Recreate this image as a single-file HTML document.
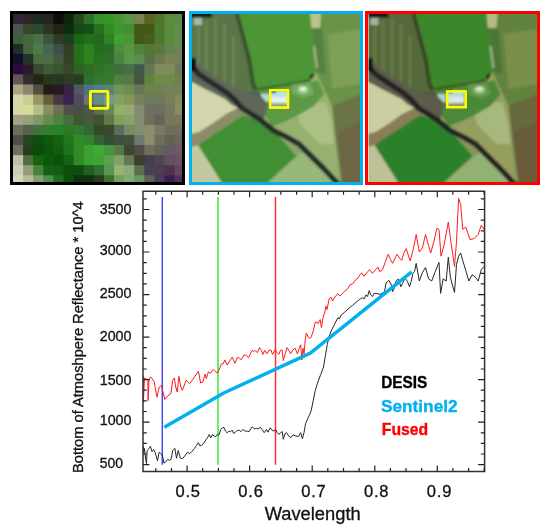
<!DOCTYPE html>
<html><head><meta charset="utf-8"><style>
html,body{margin:0;padding:0;background:#fff;width:550px;height:532px;overflow:hidden}
svg{position:absolute;left:0;top:0;display:block}
text{font-family:"Liberation Sans",Arial,sans-serif}
.k{stroke:#111;stroke-width:0.3px;paint-order:stroke}
</style></head><body>
<svg width="550" height="532" viewBox="0 0 550 532">
<defs>
<clipPath id="c1"><rect x="13" y="14" width="169" height="168"/></clipPath>
<clipPath id="c2"><rect x="0" y="0" width="169" height="169"/></clipPath>
<filter id="b1" x="-5%" y="-5%" width="110%" height="110%"><feGaussianBlur stdDeviation="0.7"/><feComponentTransfer><feFuncA type="table" tableValues="0 1 1 1 1 1 1 1 1 1"/></feComponentTransfer></filter>
<filter id="bl" x="-5%" y="-5%" width="110%" height="110%"><feGaussianBlur stdDeviation="1.1"/><feComponentTransfer><feFuncA type="table" tableValues="0 1 1 1 1 1 1 1 1 1"/></feComponentTransfer></filter>

<g id="scene"><rect x="0" y="0" width="169" height="169" fill="#8aa468"/>
<!-- C right zone top -->
<polygon points="117,0 169,0 169,82 140,92 124,58 121,30" fill="#6a9249"/>
<polygon points="135,20 169,15 169,70 140,75" fill="#82a25a" opacity="0.8"/>
<polygon points="119,14 130,14 134,60 124,58 121,30" fill="#4f7c3c" opacity="0.7"/>
<!-- D right zone bottom brownish -->
<polygon points="140,92 169,80 169,169 150,169 143,120" fill="#6a7446"/>
<polygon points="146,118 169,108 169,169 150,169" fill="#6c6644"/>
<polygon points="117,0 129,0 128,14 118,14" fill="#b9c38c"/>
<!-- A upper-left gray-green -->
<polygon points="0,0 47,0 54,24 60,47 63,70 66,76 58,84 45,88 34,82 25,75 16,69 6,61 0,54" fill="#5a7546"/>
<g fill="#73905e" opacity="0.6">
<rect x="5" y="12" width="3" height="40"/><rect x="13" y="6" width="3" height="55"/><rect x="22" y="4" width="3" height="62"/><rect x="31" y="10" width="3" height="62"/><rect x="40" y="22" width="3" height="58"/>
</g>
<rect x="0" y="0" width="20" height="3.5" fill="#151a18"/>
<rect x="2" y="4" width="8" height="7" fill="#a9bba8"/>
<!-- B top green field -->
<polygon points="47,0 118,0 121,30 124,58 118,66 90,70 66,76 63,70 60,47 54,24" fill="#4e9634"/>
<polyline points="45,0 51.5,24 57.5,47 61,70 64,76" fill="none" stroke="#34552e" stroke-width="4"/>
<polyline points="66,76 90,72 118,67" fill="none" stroke="#3a6a2c" stroke-width="4"/>
<line x1="122" y1="32" x2="125" y2="54" stroke="#a8b898" stroke-width="2"/>
<circle cx="121" cy="63" r="3.2" fill="#1c2a1c"/>
<!-- E middle zone -->
<polygon points="66,77 118,68 124,58 140,92 143,120 147,169 132,156 119,143 107,131 95,124 82,117 68,106 58,98" fill="#96b070"/>
<polygon points="105,90 134,88 140,110 142,130 128,130 108,110" fill="#acc084"/>
<polygon points="66,77 118,68 126,66 132,80 122,92 108,100 92,108 80,112 72,100 68,90" fill="#5c9844"/>
<polygon points="100,70 118,68 122,80 112,84 100,80" fill="#78b060" opacity="0.8"/>
<ellipse cx="111" cy="76" rx="6" ry="4" fill="#98c888"/>
<!-- F dark junction -->
<polygon points="48,80 66,77 75,88 72,98 58,100 46,92" fill="#55604e"/>
<rect x="108" y="73" width="6" height="4" fill="#e6f0e0"/>
<rect x="69" y="80" width="8" height="8" fill="#b8dcd4"/>
<rect x="78" y="77" width="18" height="6" fill="#b4e4f0"/>
<rect x="78" y="83" width="18" height="6" fill="#e8f0f0"/>
<rect x="78" y="89" width="18" height="5" fill="#8ea888"/>
<rect x="79" y="76" width="5" height="3" fill="#101018"/>
<!-- dark band -->
<polygon points="0,45 14,56 28,65.5 40,73 52.6,78 70,83 76,90 72,105 52.6,97 39.5,90.7 33,85 26,81.5 13,75 0,68" fill="#5e665a"/>
<!-- H cream -->
<polygon points="0,68 13,75 26,81.5 33,85 39.5,90.7 46,94 34,100 20,110 7,118 0,120" fill="#d3d6ac"/>
<!-- I transition -->
<polygon points="46,94 54,99 47,104 6,131 0,133 0,120 7,118 20,110 34,100" fill="#8c8c68"/>
<!-- K bottom-left corner -->
<polygon points="0,133 6,131 32,172 0,172" fill="#c4c8a0"/>
<!-- L bottom strip -->
<polygon points="70,172 104,144 113,137 150,172" fill="#98b878"/>
<!-- J bottom field -->
<polygon points="6,131 47,104 52,101 70,108 84,119 104,142 72,172 32,172" fill="#3f8f34"/>
<!-- road -->
<polyline points="0,52 6.6,60 17,67 26,73 35,79 43,86 49.7,94 68.3,105.6 81.8,116.6 95.4,123.4 107.2,130.1 119,142 132.6,155.5 147,171" fill="none" stroke="#25292c" stroke-width="5.5" stroke-linejoin="round"/>
<rect x="0" y="44" width="4" height="13" fill="#0c0c0c"/>
</g>
<g id="scene3"><rect x="0" y="0" width="169" height="169" fill="#879458"/>
<!-- C right zone top -->
<polygon points="117,0 169,0 169,82 140,92 124,58 121,30" fill="#62833d"/>
<polygon points="135,20 169,15 169,70 140,75" fill="#7f924c" opacity="0.8"/>
<polygon points="119,14 130,14 134,60 124,58 121,30" fill="#437031" opacity="0.7"/>
<!-- D right zone bottom brownish -->
<polygon points="140,92 169,80 169,169 150,169 143,120" fill="#68683c"/>
<polygon points="146,118 169,108 169,169 150,169" fill="#6a5c3a"/>
<polygon points="117,0 129,0 128,14 118,14" fill="#b3bb84"/>
<!-- A upper-left gray-green -->
<polygon points="0,0 47,0 54,24 60,47 63,70 66,76 58,84 45,88 34,82 25,75 16,69 6,61 0,54" fill="#56693b"/>
<g fill="#71824f" opacity="0.6">
<rect x="5" y="12" width="3" height="40"/><rect x="13" y="6" width="3" height="55"/><rect x="22" y="4" width="3" height="62"/><rect x="31" y="10" width="3" height="62"/><rect x="40" y="22" width="3" height="58"/>
</g>
<rect x="0" y="0" width="20" height="3.5" fill="#181615"/>
<rect x="2" y="4" width="8" height="7" fill="#a4b49e"/>
<!-- B top green field -->
<polygon points="47,0 118,0 121,30 124,58 118,66 90,70 66,76 63,70 60,47 54,24" fill="#3b872a"/>
<polyline points="45,0 51.5,24 57.5,47 61,70 64,76" fill="none" stroke="#374728" stroke-width="4"/>
<polyline points="66,76 90,72 118,67" fill="none" stroke="#3d5927" stroke-width="4"/>
<line x1="122" y1="32" x2="125" y2="54" stroke="#a3b18f" stroke-width="2"/>
<circle cx="121" cy="63" r="3.2" fill="#1f2319"/>
<!-- E middle zone -->
<polygon points="66,77 118,68 124,58 140,92 143,120 147,169 132,156 119,143 107,131 95,124 82,117 68,106 58,98" fill="#939e5f"/>
<polygon points="105,90 134,88 140,110 142,130 128,130 108,110" fill="#a7b87c"/>
<polygon points="66,77 118,68 126,66 132,80 122,92 108,100 92,108 80,112 72,100 68,90" fill="#4c8938"/>
<polygon points="100,70 118,68 122,80 112,84 100,80" fill="#6a9e50" opacity="0.8"/>
<ellipse cx="111" cy="76" rx="6" ry="4" fill="#93c080"/>
<!-- F dark junction -->
<polygon points="48,80 66,77 75,88 72,98 58,100 46,92" fill="#535642"/>
<rect x="108" y="73" width="6" height="4" fill="#dfe6d3"/>
<rect x="69" y="80" width="8" height="8" fill="#b2d3c7"/>
<rect x="78" y="77" width="18" height="6" fill="#afdbe2"/>
<rect x="78" y="83" width="18" height="6" fill="#e1e6e2"/>
<rect x="78" y="89" width="18" height="5" fill="#8b9773"/>
<rect x="79" y="76" width="5" height="3" fill="#130d15"/>
<!-- dark band -->
<polygon points="0,45 14,56 28,65.5 40,73 52.6,78 70,83 76,90 72,105 52.6,97 39.5,90.7 33,85 26,81.5 13,75 0,68" fill="#5c5c4d"/>
<!-- H cream -->
<polygon points="0,68 13,75 26,81.5 33,85 39.5,90.7 46,94 34,100 20,110 7,118 0,120" fill="#cdcda2"/>
<!-- I transition -->
<polygon points="46,94 54,99 47,104 6,131 0,133 0,120 7,118 20,110 34,100" fill="#897e59"/>
<!-- K bottom-left corner -->
<polygon points="0,133 6,131 32,172 0,172" fill="#bec096"/>
<!-- L bottom strip -->
<polygon points="70,172 104,144 113,137 150,172" fill="#93b171"/>
<!-- J bottom field -->
<polygon points="6,131 47,104 52,101 70,108 84,119 104,142 72,172 32,172" fill="#2c812a"/>
<!-- road -->
<polyline points="0,52 6.6,60 17,67 26,73 35,79 43,86 49.7,94 68.3,105.6 81.8,116.6 95.4,123.4 107.2,130.1 119,142 132.6,155.5 147,171" fill="none" stroke="#282227" stroke-width="5.5" stroke-linejoin="round"/>
<rect x="0" y="44" width="4" height="13" fill="#0f0a0b"/>
</g>
</defs>
<rect width="550" height="532" fill="#fff"/>
<!-- tile 1 -->
<g clip-path="url(#c1)"><g filter="url(#b1)"><rect x="13.1" y="13.8" width="10.4" height="10.4" fill="#2d2634"/>
<rect x="23.2" y="13.8" width="10.4" height="10.4" fill="#2d2826"/>
<rect x="33.3" y="13.8" width="10.4" height="10.4" fill="#1e2a20"/>
<rect x="43.4" y="13.8" width="10.4" height="10.4" fill="#20261e"/>
<rect x="53.5" y="13.8" width="10.4" height="10.4" fill="#0f0f0a"/>
<rect x="63.6" y="13.8" width="10.4" height="10.4" fill="#0f280c"/>
<rect x="73.7" y="13.8" width="10.4" height="10.4" fill="#234b19"/>
<rect x="83.8" y="13.8" width="10.4" height="10.4" fill="#2d6e2d"/>
<rect x="93.9" y="13.8" width="10.4" height="10.4" fill="#34912a"/>
<rect x="104.0" y="13.8" width="10.4" height="10.4" fill="#379628"/>
<rect x="114.1" y="13.8" width="10.4" height="10.4" fill="#469632"/>
<rect x="124.2" y="13.8" width="10.4" height="10.4" fill="#5a9646"/>
<rect x="134.3" y="13.8" width="10.4" height="10.4" fill="#788250"/>
<rect x="144.4" y="13.8" width="10.4" height="10.4" fill="#5a6428"/>
<rect x="154.5" y="13.8" width="10.4" height="10.4" fill="#507828"/>
<rect x="164.6" y="13.8" width="10.4" height="10.4" fill="#5a8c3c"/>
<rect x="174.7" y="13.8" width="10.4" height="10.4" fill="#5a8c46"/>
<rect x="13.1" y="23.9" width="10.4" height="10.4" fill="#4b5550"/>
<rect x="23.2" y="23.9" width="10.4" height="10.4" fill="#37482a"/>
<rect x="33.3" y="23.9" width="10.4" height="10.4" fill="#2a482d"/>
<rect x="43.4" y="23.9" width="10.4" height="10.4" fill="#2a3420"/>
<rect x="53.5" y="23.9" width="10.4" height="10.4" fill="#202316"/>
<rect x="63.6" y="23.9" width="10.4" height="10.4" fill="#0f2d0f"/>
<rect x="73.7" y="23.9" width="10.4" height="10.4" fill="#144614"/>
<rect x="83.8" y="23.9" width="10.4" height="10.4" fill="#195019"/>
<rect x="93.9" y="23.9" width="10.4" height="10.4" fill="#267023"/>
<rect x="104.0" y="23.9" width="10.4" height="10.4" fill="#328c28"/>
<rect x="114.1" y="23.9" width="10.4" height="10.4" fill="#3c962d"/>
<rect x="124.2" y="23.9" width="10.4" height="10.4" fill="#468c2d"/>
<rect x="134.3" y="23.9" width="10.4" height="10.4" fill="#415a19"/>
<rect x="144.4" y="23.9" width="10.4" height="10.4" fill="#415a19"/>
<rect x="154.5" y="23.9" width="10.4" height="10.4" fill="#50782d"/>
<rect x="164.6" y="23.9" width="10.4" height="10.4" fill="#5a8c3c"/>
<rect x="174.7" y="23.9" width="10.4" height="10.4" fill="#648c50"/>
<rect x="13.1" y="34.0" width="10.4" height="10.4" fill="#3e5f3c"/>
<rect x="23.2" y="34.0" width="10.4" height="10.4" fill="#44663a"/>
<rect x="33.3" y="34.0" width="10.4" height="10.4" fill="#487048"/>
<rect x="43.4" y="34.0" width="10.4" height="10.4" fill="#3a553a"/>
<rect x="53.5" y="34.0" width="10.4" height="10.4" fill="#2a3e2a"/>
<rect x="63.6" y="34.0" width="10.4" height="10.4" fill="#1c3e20"/>
<rect x="73.7" y="34.0" width="10.4" height="10.4" fill="#1e6419"/>
<rect x="83.8" y="34.0" width="10.4" height="10.4" fill="#236e1e"/>
<rect x="93.9" y="34.0" width="10.4" height="10.4" fill="#20691c"/>
<rect x="104.0" y="34.0" width="10.4" height="10.4" fill="#2d8223"/>
<rect x="114.1" y="34.0" width="10.4" height="10.4" fill="#41a032"/>
<rect x="124.2" y="34.0" width="10.4" height="10.4" fill="#4b9632"/>
<rect x="134.3" y="34.0" width="10.4" height="10.4" fill="#415a19"/>
<rect x="144.4" y="34.0" width="10.4" height="10.4" fill="#465f1e"/>
<rect x="154.5" y="34.0" width="10.4" height="10.4" fill="#50782d"/>
<rect x="164.6" y="34.0" width="10.4" height="10.4" fill="#5a8c3c"/>
<rect x="174.7" y="34.0" width="10.4" height="10.4" fill="#648c50"/>
<rect x="13.1" y="44.1" width="10.4" height="10.4" fill="#1e2d28"/>
<rect x="23.2" y="44.1" width="10.4" height="10.4" fill="#44663a"/>
<rect x="33.3" y="44.1" width="10.4" height="10.4" fill="#507a48"/>
<rect x="43.4" y="44.1" width="10.4" height="10.4" fill="#446650"/>
<rect x="53.5" y="44.1" width="10.4" height="10.4" fill="#414e48"/>
<rect x="63.6" y="44.1" width="10.4" height="10.4" fill="#303e26"/>
<rect x="73.7" y="44.1" width="10.4" height="10.4" fill="#286e1e"/>
<rect x="83.8" y="44.1" width="10.4" height="10.4" fill="#2d8223"/>
<rect x="93.9" y="44.1" width="10.4" height="10.4" fill="#236e1c"/>
<rect x="104.0" y="44.1" width="10.4" height="10.4" fill="#286e28"/>
<rect x="114.1" y="44.1" width="10.4" height="10.4" fill="#4b8c3c"/>
<rect x="124.2" y="44.1" width="10.4" height="10.4" fill="#5a963c"/>
<rect x="134.3" y="44.1" width="10.4" height="10.4" fill="#50823c"/>
<rect x="144.4" y="44.1" width="10.4" height="10.4" fill="#507832"/>
<rect x="154.5" y="44.1" width="10.4" height="10.4" fill="#5a783c"/>
<rect x="164.6" y="44.1" width="10.4" height="10.4" fill="#648250"/>
<rect x="174.7" y="44.1" width="10.4" height="10.4" fill="#6e825a"/>
<rect x="13.1" y="54.2" width="10.4" height="10.4" fill="#16082a"/>
<rect x="23.2" y="54.2" width="10.4" height="10.4" fill="#23322a"/>
<rect x="33.3" y="54.2" width="10.4" height="10.4" fill="#4e6c3e"/>
<rect x="43.4" y="54.2" width="10.4" height="10.4" fill="#4e6c44"/>
<rect x="53.5" y="54.2" width="10.4" height="10.4" fill="#44583e"/>
<rect x="63.6" y="54.2" width="10.4" height="10.4" fill="#344126"/>
<rect x="73.7" y="54.2" width="10.4" height="10.4" fill="#286e1e"/>
<rect x="83.8" y="54.2" width="10.4" height="10.4" fill="#2d8223"/>
<rect x="93.9" y="54.2" width="10.4" height="10.4" fill="#26731e"/>
<rect x="104.0" y="54.2" width="10.4" height="10.4" fill="#2d6e2d"/>
<rect x="114.1" y="54.2" width="10.4" height="10.4" fill="#4b8241"/>
<rect x="124.2" y="54.2" width="10.4" height="10.4" fill="#5a964b"/>
<rect x="134.3" y="54.2" width="10.4" height="10.4" fill="#5a8c50"/>
<rect x="144.4" y="54.2" width="10.4" height="10.4" fill="#5a6e46"/>
<rect x="154.5" y="54.2" width="10.4" height="10.4" fill="#6e7850"/>
<rect x="164.6" y="54.2" width="10.4" height="10.4" fill="#788250"/>
<rect x="174.7" y="54.2" width="10.4" height="10.4" fill="#787d5a"/>
<rect x="13.1" y="64.3" width="10.4" height="10.4" fill="#2a0f3e"/>
<rect x="23.2" y="64.3" width="10.4" height="10.4" fill="#2a1e28"/>
<rect x="33.3" y="64.3" width="10.4" height="10.4" fill="#37482d"/>
<rect x="43.4" y="64.3" width="10.4" height="10.4" fill="#3e5c34"/>
<rect x="53.5" y="64.3" width="10.4" height="10.4" fill="#3a5230"/>
<rect x="63.6" y="64.3" width="10.4" height="10.4" fill="#34482a"/>
<rect x="73.7" y="64.3" width="10.4" height="10.4" fill="#2d6423"/>
<rect x="83.8" y="64.3" width="10.4" height="10.4" fill="#2d6e23"/>
<rect x="93.9" y="64.3" width="10.4" height="10.4" fill="#2d7328"/>
<rect x="104.0" y="64.3" width="10.4" height="10.4" fill="#32782d"/>
<rect x="114.1" y="64.3" width="10.4" height="10.4" fill="#3c6e3c"/>
<rect x="124.2" y="64.3" width="10.4" height="10.4" fill="#466e46"/>
<rect x="134.3" y="64.3" width="10.4" height="10.4" fill="#3c5a46"/>
<rect x="144.4" y="64.3" width="10.4" height="10.4" fill="#647850"/>
<rect x="154.5" y="64.3" width="10.4" height="10.4" fill="#828c5a"/>
<rect x="164.6" y="64.3" width="10.4" height="10.4" fill="#828c5a"/>
<rect x="174.7" y="64.3" width="10.4" height="10.4" fill="#6e785a"/>
<rect x="13.1" y="74.4" width="10.4" height="10.4" fill="#64555a"/>
<rect x="23.2" y="74.4" width="10.4" height="10.4" fill="#322d2d"/>
<rect x="33.3" y="74.4" width="10.4" height="10.4" fill="#232819"/>
<rect x="43.4" y="74.4" width="10.4" height="10.4" fill="#28371e"/>
<rect x="53.5" y="74.4" width="10.4" height="10.4" fill="#283723"/>
<rect x="63.6" y="74.4" width="10.4" height="10.4" fill="#2d3c28"/>
<rect x="73.7" y="74.4" width="10.4" height="10.4" fill="#283c23"/>
<rect x="83.8" y="74.4" width="10.4" height="10.4" fill="#2d6e2d"/>
<rect x="93.9" y="74.4" width="10.4" height="10.4" fill="#327630"/>
<rect x="104.0" y="74.4" width="10.4" height="10.4" fill="#377832"/>
<rect x="114.1" y="74.4" width="10.4" height="10.4" fill="#50823c"/>
<rect x="124.2" y="74.4" width="10.4" height="10.4" fill="#5a7846"/>
<rect x="134.3" y="74.4" width="10.4" height="10.4" fill="#465541"/>
<rect x="144.4" y="74.4" width="10.4" height="10.4" fill="#64823c"/>
<rect x="154.5" y="74.4" width="10.4" height="10.4" fill="#6e8c46"/>
<rect x="164.6" y="74.4" width="10.4" height="10.4" fill="#6e8c46"/>
<rect x="174.7" y="74.4" width="10.4" height="10.4" fill="#6e8246"/>
<rect x="13.1" y="84.5" width="10.4" height="10.4" fill="#aaa582"/>
<rect x="23.2" y="84.5" width="10.4" height="10.4" fill="#8c826e"/>
<rect x="33.3" y="84.5" width="10.4" height="10.4" fill="#55503c"/>
<rect x="43.4" y="84.5" width="10.4" height="10.4" fill="#231e19"/>
<rect x="53.5" y="84.5" width="10.4" height="10.4" fill="#281e23"/>
<rect x="63.6" y="84.5" width="10.4" height="10.4" fill="#372346"/>
<rect x="73.7" y="84.5" width="10.4" height="10.4" fill="#505a64"/>
<rect x="83.8" y="84.5" width="10.4" height="10.4" fill="#4b737d"/>
<rect x="93.9" y="84.5" width="10.4" height="10.4" fill="#507d8c"/>
<rect x="104.0" y="84.5" width="10.4" height="10.4" fill="#5a826e"/>
<rect x="114.1" y="84.5" width="10.4" height="10.4" fill="#6e965a"/>
<rect x="124.2" y="84.5" width="10.4" height="10.4" fill="#6e8c50"/>
<rect x="134.3" y="84.5" width="10.4" height="10.4" fill="#64785a"/>
<rect x="144.4" y="84.5" width="10.4" height="10.4" fill="#6e8250"/>
<rect x="154.5" y="84.5" width="10.4" height="10.4" fill="#6e8250"/>
<rect x="164.6" y="84.5" width="10.4" height="10.4" fill="#78825a"/>
<rect x="174.7" y="84.5" width="10.4" height="10.4" fill="#78825a"/>
<rect x="13.1" y="94.6" width="10.4" height="10.4" fill="#d7d7aa"/>
<rect x="23.2" y="94.6" width="10.4" height="10.4" fill="#c8cd96"/>
<rect x="33.3" y="94.6" width="10.4" height="10.4" fill="#969664"/>
<rect x="43.4" y="94.6" width="10.4" height="10.4" fill="#645f3c"/>
<rect x="53.5" y="94.6" width="10.4" height="10.4" fill="#463741"/>
<rect x="63.6" y="94.6" width="10.4" height="10.4" fill="#3c2350"/>
<rect x="73.7" y="94.6" width="10.4" height="10.4" fill="#504b5a"/>
<rect x="83.8" y="94.6" width="10.4" height="10.4" fill="#697676"/>
<rect x="93.9" y="94.6" width="10.4" height="10.4" fill="#648c84"/>
<rect x="104.0" y="94.6" width="10.4" height="10.4" fill="#6e9b8c"/>
<rect x="114.1" y="94.6" width="10.4" height="10.4" fill="#82a064"/>
<rect x="124.2" y="94.6" width="10.4" height="10.4" fill="#82965a"/>
<rect x="134.3" y="94.6" width="10.4" height="10.4" fill="#78825a"/>
<rect x="144.4" y="94.6" width="10.4" height="10.4" fill="#6e785a"/>
<rect x="154.5" y="94.6" width="10.4" height="10.4" fill="#6e785a"/>
<rect x="164.6" y="94.6" width="10.4" height="10.4" fill="#787d5a"/>
<rect x="174.7" y="94.6" width="10.4" height="10.4" fill="#828c5a"/>
<rect x="13.1" y="104.7" width="10.4" height="10.4" fill="#d7d7a5"/>
<rect x="23.2" y="104.7" width="10.4" height="10.4" fill="#d7dc96"/>
<rect x="33.3" y="104.7" width="10.4" height="10.4" fill="#b4be82"/>
<rect x="43.4" y="104.7" width="10.4" height="10.4" fill="#8c8c64"/>
<rect x="53.5" y="104.7" width="10.4" height="10.4" fill="#6e6e5a"/>
<rect x="63.6" y="104.7" width="10.4" height="10.4" fill="#505050"/>
<rect x="73.7" y="104.7" width="10.4" height="10.4" fill="#465046"/>
<rect x="83.8" y="104.7" width="10.4" height="10.4" fill="#485a3e"/>
<rect x="93.9" y="104.7" width="10.4" height="10.4" fill="#5a7050"/>
<rect x="104.0" y="104.7" width="10.4" height="10.4" fill="#69875c"/>
<rect x="114.1" y="104.7" width="10.4" height="10.4" fill="#8cb464"/>
<rect x="124.2" y="104.7" width="10.4" height="10.4" fill="#96aa6e"/>
<rect x="134.3" y="104.7" width="10.4" height="10.4" fill="#828c6e"/>
<rect x="144.4" y="104.7" width="10.4" height="10.4" fill="#6e6e64"/>
<rect x="154.5" y="104.7" width="10.4" height="10.4" fill="#6e6e5f"/>
<rect x="164.6" y="104.7" width="10.4" height="10.4" fill="#78785a"/>
<rect x="174.7" y="104.7" width="10.4" height="10.4" fill="#8c8c64"/>
<rect x="13.1" y="114.8" width="10.4" height="10.4" fill="#a0a082"/>
<rect x="23.2" y="114.8" width="10.4" height="10.4" fill="#96a078"/>
<rect x="33.3" y="114.8" width="10.4" height="10.4" fill="#82966e"/>
<rect x="43.4" y="114.8" width="10.4" height="10.4" fill="#648c50"/>
<rect x="53.5" y="114.8" width="10.4" height="10.4" fill="#50823c"/>
<rect x="63.6" y="114.8" width="10.4" height="10.4" fill="#466e3c"/>
<rect x="73.7" y="114.8" width="10.4" height="10.4" fill="#3c5a32"/>
<rect x="83.8" y="114.8" width="10.4" height="10.4" fill="#465a3c"/>
<rect x="93.9" y="114.8" width="10.4" height="10.4" fill="#445032"/>
<rect x="104.0" y="114.8" width="10.4" height="10.4" fill="#647846"/>
<rect x="114.1" y="114.8" width="10.4" height="10.4" fill="#82a05a"/>
<rect x="124.2" y="114.8" width="10.4" height="10.4" fill="#8ca06e"/>
<rect x="134.3" y="114.8" width="10.4" height="10.4" fill="#828c6e"/>
<rect x="144.4" y="114.8" width="10.4" height="10.4" fill="#6e6e5a"/>
<rect x="154.5" y="114.8" width="10.4" height="10.4" fill="#64645a"/>
<rect x="164.6" y="114.8" width="10.4" height="10.4" fill="#78785a"/>
<rect x="174.7" y="114.8" width="10.4" height="10.4" fill="#78785a"/>
<rect x="13.1" y="124.9" width="10.4" height="10.4" fill="#696e5c"/>
<rect x="23.2" y="124.9" width="10.4" height="10.4" fill="#526448"/>
<rect x="33.3" y="124.9" width="10.4" height="10.4" fill="#41733c"/>
<rect x="43.4" y="124.9" width="10.4" height="10.4" fill="#307d2d"/>
<rect x="53.5" y="124.9" width="10.4" height="10.4" fill="#288226"/>
<rect x="63.6" y="124.9" width="10.4" height="10.4" fill="#2a7a28"/>
<rect x="73.7" y="124.9" width="10.4" height="10.4" fill="#327830"/>
<rect x="83.8" y="124.9" width="10.4" height="10.4" fill="#326930"/>
<rect x="93.9" y="124.9" width="10.4" height="10.4" fill="#324b28"/>
<rect x="104.0" y="124.9" width="10.4" height="10.4" fill="#3c4632"/>
<rect x="114.1" y="124.9" width="10.4" height="10.4" fill="#5a6e5a"/>
<rect x="124.2" y="124.9" width="10.4" height="10.4" fill="#788c64"/>
<rect x="134.3" y="124.9" width="10.4" height="10.4" fill="#828c6e"/>
<rect x="144.4" y="124.9" width="10.4" height="10.4" fill="#8c8c6e"/>
<rect x="154.5" y="124.9" width="10.4" height="10.4" fill="#787864"/>
<rect x="164.6" y="124.9" width="10.4" height="10.4" fill="#6e6e5a"/>
<rect x="174.7" y="124.9" width="10.4" height="10.4" fill="#6e6e5a"/>
<rect x="13.1" y="135.0" width="10.4" height="10.4" fill="#505046"/>
<rect x="23.2" y="135.0" width="10.4" height="10.4" fill="#28461e"/>
<rect x="33.3" y="135.0" width="10.4" height="10.4" fill="#0a500a"/>
<rect x="43.4" y="135.0" width="10.4" height="10.4" fill="#0f5a0f"/>
<rect x="53.5" y="135.0" width="10.4" height="10.4" fill="#146414"/>
<rect x="63.6" y="135.0" width="10.4" height="10.4" fill="#23781e"/>
<rect x="73.7" y="135.0" width="10.4" height="10.4" fill="#328c28"/>
<rect x="83.8" y="135.0" width="10.4" height="10.4" fill="#32822d"/>
<rect x="93.9" y="135.0" width="10.4" height="10.4" fill="#326432"/>
<rect x="104.0" y="135.0" width="10.4" height="10.4" fill="#325032"/>
<rect x="114.1" y="135.0" width="10.4" height="10.4" fill="#3c503c"/>
<rect x="124.2" y="135.0" width="10.4" height="10.4" fill="#46503c"/>
<rect x="134.3" y="135.0" width="10.4" height="10.4" fill="#6e786e"/>
<rect x="144.4" y="135.0" width="10.4" height="10.4" fill="#8c8c6e"/>
<rect x="154.5" y="135.0" width="10.4" height="10.4" fill="#6e6e5a"/>
<rect x="164.6" y="135.0" width="10.4" height="10.4" fill="#646450"/>
<rect x="174.7" y="135.0" width="10.4" height="10.4" fill="#6e645a"/>
<rect x="13.1" y="145.1" width="10.4" height="10.4" fill="#6e6e5f"/>
<rect x="23.2" y="145.1" width="10.4" height="10.4" fill="#283c1e"/>
<rect x="33.3" y="145.1" width="10.4" height="10.4" fill="#0a4b0a"/>
<rect x="43.4" y="145.1" width="10.4" height="10.4" fill="#0a550a"/>
<rect x="53.5" y="145.1" width="10.4" height="10.4" fill="#0f5f0f"/>
<rect x="63.6" y="145.1" width="10.4" height="10.4" fill="#1e731e"/>
<rect x="73.7" y="145.1" width="10.4" height="10.4" fill="#328c28"/>
<rect x="83.8" y="145.1" width="10.4" height="10.4" fill="#3ca032"/>
<rect x="93.9" y="145.1" width="10.4" height="10.4" fill="#41aa37"/>
<rect x="104.0" y="145.1" width="10.4" height="10.4" fill="#46963c"/>
<rect x="114.1" y="145.1" width="10.4" height="10.4" fill="#5a7846"/>
<rect x="124.2" y="145.1" width="10.4" height="10.4" fill="#3c4632"/>
<rect x="134.3" y="145.1" width="10.4" height="10.4" fill="#505046"/>
<rect x="144.4" y="145.1" width="10.4" height="10.4" fill="#6e6e5a"/>
<rect x="154.5" y="145.1" width="10.4" height="10.4" fill="#64645a"/>
<rect x="164.6" y="145.1" width="10.4" height="10.4" fill="#645a64"/>
<rect x="174.7" y="145.1" width="10.4" height="10.4" fill="#6e5a64"/>
<rect x="13.1" y="155.2" width="10.4" height="10.4" fill="#bebeaa"/>
<rect x="23.2" y="155.2" width="10.4" height="10.4" fill="#506e3c"/>
<rect x="33.3" y="155.2" width="10.4" height="10.4" fill="#14640f"/>
<rect x="43.4" y="155.2" width="10.4" height="10.4" fill="#0f5a0f"/>
<rect x="53.5" y="155.2" width="10.4" height="10.4" fill="#0f500f"/>
<rect x="63.6" y="155.2" width="10.4" height="10.4" fill="#196414"/>
<rect x="73.7" y="155.2" width="10.4" height="10.4" fill="#328c28"/>
<rect x="83.8" y="155.2" width="10.4" height="10.4" fill="#3ca032"/>
<rect x="93.9" y="155.2" width="10.4" height="10.4" fill="#3ca532"/>
<rect x="104.0" y="155.2" width="10.4" height="10.4" fill="#5aa050"/>
<rect x="114.1" y="155.2" width="10.4" height="10.4" fill="#82a06e"/>
<rect x="124.2" y="155.2" width="10.4" height="10.4" fill="#647850"/>
<rect x="134.3" y="155.2" width="10.4" height="10.4" fill="#3c3c32"/>
<rect x="144.4" y="155.2" width="10.4" height="10.4" fill="#463c50"/>
<rect x="154.5" y="155.2" width="10.4" height="10.4" fill="#504650"/>
<rect x="164.6" y="155.2" width="10.4" height="10.4" fill="#645064"/>
<rect x="174.7" y="155.2" width="10.4" height="10.4" fill="#6e5064"/>
<rect x="13.1" y="165.3" width="10.4" height="10.4" fill="#cdcdb9"/>
<rect x="23.2" y="165.3" width="10.4" height="10.4" fill="#949b76"/>
<rect x="33.3" y="165.3" width="10.4" height="10.4" fill="#46823c"/>
<rect x="43.4" y="165.3" width="10.4" height="10.4" fill="#146014"/>
<rect x="53.5" y="165.3" width="10.4" height="10.4" fill="#145a14"/>
<rect x="63.6" y="165.3" width="10.4" height="10.4" fill="#0f500f"/>
<rect x="73.7" y="165.3" width="10.4" height="10.4" fill="#104e10"/>
<rect x="83.8" y="165.3" width="10.4" height="10.4" fill="#205f20"/>
<rect x="93.9" y="165.3" width="10.4" height="10.4" fill="#326e30"/>
<rect x="104.0" y="165.3" width="10.4" height="10.4" fill="#5a9650"/>
<rect x="114.1" y="165.3" width="10.4" height="10.4" fill="#96b46e"/>
<rect x="124.2" y="165.3" width="10.4" height="10.4" fill="#8caa78"/>
<rect x="134.3" y="165.3" width="10.4" height="10.4" fill="#5a6e50"/>
<rect x="144.4" y="165.3" width="10.4" height="10.4" fill="#46415a"/>
<rect x="154.5" y="165.3" width="10.4" height="10.4" fill="#503c50"/>
<rect x="164.6" y="165.3" width="10.4" height="10.4" fill="#503250"/>
<rect x="174.7" y="165.3" width="10.4" height="10.4" fill="#64465a"/>
<rect x="13.1" y="175.4" width="10.4" height="10.4" fill="#d2d7be"/>
<rect x="23.2" y="175.4" width="10.4" height="10.4" fill="#b4be96"/>
<rect x="33.3" y="175.4" width="10.4" height="10.4" fill="#82a06e"/>
<rect x="43.4" y="175.4" width="10.4" height="10.4" fill="#508c50"/>
<rect x="53.5" y="175.4" width="10.4" height="10.4" fill="#1e6e1e"/>
<rect x="63.6" y="175.4" width="10.4" height="10.4" fill="#0f500f"/>
<rect x="73.7" y="175.4" width="10.4" height="10.4" fill="#0f320f"/>
<rect x="83.8" y="175.4" width="10.4" height="10.4" fill="#192d14"/>
<rect x="93.9" y="175.4" width="10.4" height="10.4" fill="#283c1e"/>
<rect x="104.0" y="175.4" width="10.4" height="10.4" fill="#3c6e32"/>
<rect x="114.1" y="175.4" width="10.4" height="10.4" fill="#78a05a"/>
<rect x="124.2" y="175.4" width="10.4" height="10.4" fill="#82aa78"/>
<rect x="134.3" y="175.4" width="10.4" height="10.4" fill="#6e9664"/>
<rect x="144.4" y="175.4" width="10.4" height="10.4" fill="#5a645a"/>
<rect x="154.5" y="175.4" width="10.4" height="10.4" fill="#463c5a"/>
<rect x="164.6" y="175.4" width="10.4" height="10.4" fill="#3c1e50"/>
<rect x="174.7" y="175.4" width="10.4" height="10.4" fill="#50325a"/></g></g>
<rect x="11.5" y="12.5" width="172" height="171" fill="none" stroke="#000" stroke-width="3"/>
<rect x="90.4" y="91.3" width="17.5" height="17.1" rx="0.8" fill="none" stroke="#ffff00" stroke-width="2.8"/>
<!-- tile 2 -->
<g transform="translate(192,14)"><g clip-path="url(#c2)"><g filter="url(#bl)"><use href="#scene"/></g></g></g>
<rect x="190.5" y="12.5" width="171" height="171" fill="none" stroke="#00b0f0" stroke-width="3"/>
<rect x="270.2" y="90.2" width="17.8" height="17.4" fill="none" stroke="#ffff00" stroke-width="2.5"/>
<!-- tile 3 -->
<g transform="translate(368.5,14)"><g clip-path="url(#c2)"><g filter="url(#bl)"><use href="#scene3"/></g></g></g>
<rect x="366.5" y="12.5" width="172" height="171" fill="none" stroke="#ff0000" stroke-width="3"/>
<rect x="447.3" y="91.4" width="18.4" height="15.8" fill="none" stroke="#ffff00" stroke-width="2.5"/>
<!-- chart -->
<line x1="162.3" y1="197" x2="162.3" y2="464.7" stroke="#4646ff" stroke-width="1.5"/>
<line x1="218" y1="197" x2="218" y2="464.7" stroke="#55f055" stroke-width="1.8"/>
<line x1="275.5" y1="197" x2="275.5" y2="464.7" stroke="#ff3030" stroke-width="1.5"/>
<polyline points="143.2,375.8 143.4,401.7 144.5,378 146.2,379.2 147.9,379.2 148.1,400.6 149,379.2 150.7,376.9 154.1,381.4 156.9,397.2 159.2,387.1 161.4,385.4 162.6,390.4 164.8,399.5 167.6,396.1 171,393.3 172.7,380.3 174.4,378 175.5,386 177.2,392.1 178.9,376.4 180.6,386 182.3,390.4 186.2,380.3 189.6,383.7 193,379.2 195,376.2 198.4,371.2 200.6,383 202.9,381.9 205.1,374 206.3,378.5 208.5,371.7 210.2,373.4 213,369.5 214.7,371.2 217.6,372.9 218.7,370.6 221.5,363.8 223.2,363.8 224.9,359.9 227.1,365 230,360.5 232.2,357.1 235,363.3 237.3,357.6 239,357.6 241.2,359.9 244.1,354.8 246.3,355.4 248.6,357.6 252,350.3 253.4,351.6 255.1,350.4 257.3,352.7 259.6,347.6 261.3,350.4 263,354.4 264.7,350.4 266.9,353.8 268.6,350.4 270.9,349.9 272.6,354.4 274.8,349.9 277.1,352.7 278.8,354.4 280.4,350.4 282.1,349.9 283.3,360.6 285,354.4 287.2,347.6 288.9,350.4 290.6,353.8 292.9,349.9 295.1,348.2 297.4,353.8 299.6,347.1 300.7,344.8 301.9,360 303,348.2 304.1,353.8 305.3,338.6 306.4,333 308.1,336.9 310,338.6 311.3,336.9 313.5,330 315.1,322.4 316.8,321.9 318,323.6 320.2,319.6 321.4,327.5 323,317.4 324.7,312.9 325.9,306.1 327,309.5 329.2,298.8 330.9,297.1 332.6,301 334.9,297.1 337.7,293.7 340,295.9 344.5,291.4 347,289.5 350.1,284.7 352.5,284 355.7,279.6 358,278 360,274.5 361.7,272.9 363.9,276.2 366.8,272.9 369.6,269.5 372.4,273.4 375.2,270 378,267.2 379.7,271.7 382.6,269.5 385.4,261.6 388.2,254.2 390.4,259.3 392.7,263.3 395.5,257.1 397.2,254.2 399.5,258.2 401.7,260.4 404,252.6 406.2,248.6 408.5,255.9 410.2,261 413.1,250 416.2,234.5 419.3,252 422.4,247.9 425.5,234.5 428.6,245.8 430.7,253.1 433.8,241.7 436.9,228.3 439,229.3 441,256.2 444.1,244.8 448.3,222.1 450.3,237.6 452.4,252 454.5,266.5 456.5,241.7 458.6,198.3 460.7,204.5 462.7,229.3 465.8,227.2 470,239.6 474.1,238.6 478.2,234.5 481.3,225.2 484,229.3" fill="none" stroke="#ff1a1a" stroke-width="1.0" stroke-linejoin="round"/>
<polyline points="143.3,446.2 143.8,452.7 144.4,448.4 145.5,458 146.5,463.6 147.1,450.5 149.3,448.4 150.4,446.2 152,451.6 153.6,449.5 155.3,452.7 157.5,460.9 159.1,452.2 160.7,453.3 162.4,456 164,463.1 166.2,461.5 167.8,459.3 169.5,460.4 171.1,459.3 172.7,450.5 174.9,448.4 176.5,458.2 178.2,450.5 180.4,458.2 182.5,458.7 184.7,456 187.5,452.2 189.6,453.8 191.8,451.6 194.5,448.4 196.6,445.4 198.3,442.6 199.9,445.9 201.5,445.4 203.7,443.2 205.9,439.9 207.5,437.7 209.2,434.5 210.8,437.7 212.5,434.5 214.1,436.1 215.7,436.6 217.4,434.5 219,435 220.6,429.5 222.3,427.9 223.9,427.4 225.5,431.2 227.2,432.8 228.8,431.2 230.5,431.7 232.1,430.1 233.7,433.4 235.4,432.3 237,430.6 239.2,430.1 240.8,431.7 243,429.5 245.2,431.2 247.4,431.2 249,431.7 250.6,429 252.3,426.8 254.4,428.9 256.5,428.4 258.2,428.9 260.4,427.3 262,429.5 264.2,432.7 266.4,429.5 268,432.2 270.2,427.8 271.8,430 274,431.1 275.6,429.5 277.3,432.7 278.9,434.4 280.5,432.7 282.2,431.6 283.3,439.3 284.9,433.8 286.5,432.7 288.7,436 290.9,437.6 293.1,434.9 295.8,436 298.5,436.5 300.7,432.7 302.4,438.7 304,432.7 305.6,423.5 307.8,418.5 309.8,414.2 311.3,410.2 313.2,400.8 315,391.4 317.9,382 320.7,374.5 323.5,367 325.4,355.7 327.3,344.4 329.1,336.9 331,331.3 334.8,323.8 336.7,320 338.3,317.4 339.4,319.1 341.1,315.1 344.5,312.3 347,310 350.1,307.2 352.5,305.5 355,303.2 358.3,300.5 360.5,298.8 362.6,297.7 364.3,298.8 365.9,295 367.5,296.6 369.2,290.6 370.8,295 372.5,296.6 374.1,293.4 376.8,293.4 380.1,294.5 384.5,291.7 386.1,283 388.8,280.3 391,284.1 392.6,291.7 394.3,287.9 396.5,280.3 398.6,279.2 400.8,286.8 403,282.5 405.2,278.1 407.4,281.4 409.5,286.8 411.2,281.4 412.8,273.7 414.5,271.5 416.2,263.4 419.3,281 422.4,272.7 425.5,267.5 428.6,278.9 431.7,281 434.8,272.7 439,262.4 440.6,293.4 443.1,278.9 446.2,281 448.3,257.2 450.3,276.8 452.4,285.1 454.5,292.4 456.5,264.4 458.6,256.2 460.7,253.1 462.7,260.3 465.8,270.6 468.9,281 472,274.8 475.1,276.8 478.2,281 481.3,269.6 484,266.5" fill="none" stroke="#262626" stroke-width="1.0" stroke-linejoin="round"/>
<polyline points="164.3,427.3 224.2,392.8 310.3,353.1 411.7,271.9" fill="none" stroke="#00b0f0" stroke-width="3.4" stroke-linejoin="round"/>
<path d="M143 190.4V472.3M484.6 190.5V472.3M142.2 191.3H485.2M142.2 471.5H485.2" fill="none" stroke="#333" stroke-width="1.5"/>
<path d="M143.0 198.9h3.8 M484.6 198.9h-3.8 M143.0 209.5h6.5 M484.6 209.5h-6.5 M143.0 220.1h3.8 M484.6 220.1h-3.8 M143.0 230.8h3.8 M484.6 230.8h-3.8 M143.0 241.4h3.8 M484.6 241.4h-3.8 M143.0 252.0h6.5 M484.6 252.0h-6.5 M143.0 262.7h3.8 M484.6 262.7h-3.8 M143.0 273.3h3.8 M484.6 273.3h-3.8 M143.0 283.9h3.8 M484.6 283.9h-3.8 M143.0 294.6h6.5 M484.6 294.6h-6.5 M143.0 305.2h3.8 M484.6 305.2h-3.8 M143.0 315.8h3.8 M484.6 315.8h-3.8 M143.0 326.4h3.8 M484.6 326.4h-3.8 M143.0 337.1h6.5 M484.6 337.1h-6.5 M143.0 347.7h3.8 M484.6 347.7h-3.8 M143.0 358.3h3.8 M484.6 358.3h-3.8 M143.0 369.0h3.8 M484.6 369.0h-3.8 M143.0 379.6h6.5 M484.6 379.6h-6.5 M143.0 390.2h3.8 M484.6 390.2h-3.8 M143.0 400.9h3.8 M484.6 400.9h-3.8 M143.0 411.5h3.8 M484.6 411.5h-3.8 M143.0 422.1h6.5 M484.6 422.1h-6.5 M143.0 432.8h3.8 M484.6 432.8h-3.8 M143.0 443.4h3.8 M484.6 443.4h-3.8 M143.0 454.0h3.8 M484.6 454.0h-3.8 M143.0 464.6h6.5 M484.6 464.6h-6.5 M155.8 471.5v-3.5 M155.8 191.3v3.5 M171.5 471.5v-3.5 M171.5 191.3v3.5 M187.1 471.5v-6 M187.1 191.3v6 M202.7 471.5v-3.5 M202.7 191.3v3.5 M218.4 471.5v-3.5 M218.4 191.3v3.5 M234.0 471.5v-3.5 M234.0 191.3v3.5 M249.6 471.5v-6 M249.6 191.3v6 M265.3 471.5v-3.5 M265.3 191.3v3.5 M280.9 471.5v-3.5 M280.9 191.3v3.5 M296.6 471.5v-3.5 M296.6 191.3v3.5 M312.2 471.5v-6 M312.2 191.3v6 M327.8 471.5v-3.5 M327.8 191.3v3.5 M343.5 471.5v-3.5 M343.5 191.3v3.5 M359.1 471.5v-3.5 M359.1 191.3v3.5 M374.8 471.5v-6 M374.8 191.3v6 M390.4 471.5v-3.5 M390.4 191.3v3.5 M406.0 471.5v-3.5 M406.0 191.3v3.5 M421.7 471.5v-3.5 M421.7 191.3v3.5 M437.3 471.5v-6 M437.3 191.3v6 M452.9 471.5v-3.5 M452.9 191.3v3.5 M468.6 471.5v-3.5 M468.6 191.3v3.5 M484.2 471.5v-3.5 M484.2 191.3v3.5" stroke="#222" stroke-width="1.2" fill="none"/>
<g font-size="14" fill="#111" class="k"><text x="99.7" y="214.0" textLength="31.8" lengthAdjust="spacingAndGlyphs">3500</text><text x="99.7" y="254.6" textLength="31.8" lengthAdjust="spacingAndGlyphs">3000</text><text x="99.7" y="298.0" textLength="31.8" lengthAdjust="spacingAndGlyphs">2500</text><text x="99.7" y="341.0" textLength="31.8" lengthAdjust="spacingAndGlyphs">2000</text><text x="99.7" y="384.5" textLength="31.8" lengthAdjust="spacingAndGlyphs">1500</text><text x="99.7" y="425.2" textLength="31.8" lengthAdjust="spacingAndGlyphs">1000</text><text x="99.7" y="467.9" textLength="23.2" lengthAdjust="spacingAndGlyphs">500</text></g>
<g font-size="16.5" fill="#111" class="k"><text x="187.75" y="496.8" text-anchor="middle" textLength="24.5" lengthAdjust="spacing">0.5</text><text x="250.59" y="496.8" text-anchor="middle" textLength="24.5" lengthAdjust="spacing">0.6</text><text x="313.43" y="496.8" text-anchor="middle" textLength="24.5" lengthAdjust="spacing">0.7</text><text x="376.27" y="496.8" text-anchor="middle" textLength="24.5" lengthAdjust="spacing">0.8</text><text x="439.11" y="496.8" text-anchor="middle" textLength="24.5" lengthAdjust="spacing">0.9</text></g>
<text class="k" x="312.7" y="520" font-size="18" text-anchor="middle" fill="#111" textLength="96" lengthAdjust="spacingAndGlyphs">Wavelength</text>
<text class="k" transform="translate(83,337.15) rotate(-90)" font-size="14" text-anchor="middle" fill="#111" textLength="271.7" lengthAdjust="spacingAndGlyphs">Bottom of Atmoshpere Reflectance * 10^4</text>
<g font-size="16.4" font-weight="bold" stroke-width="0.35" paint-order="stroke">
<text x="381.2" y="388.2" fill="#000" stroke="#000" textLength="46.2" lengthAdjust="spacingAndGlyphs">DESIS</text>
<text x="381.0" y="412.4" fill="#00b0f0" stroke="#00b0f0" textLength="76.6" lengthAdjust="spacingAndGlyphs">Sentinel2</text>
<text x="381.8" y="434.9" fill="#ff0000" stroke="#ff0000" textLength="46.4" lengthAdjust="spacingAndGlyphs">Fused</text>
</g>
</svg>
</body></html>
